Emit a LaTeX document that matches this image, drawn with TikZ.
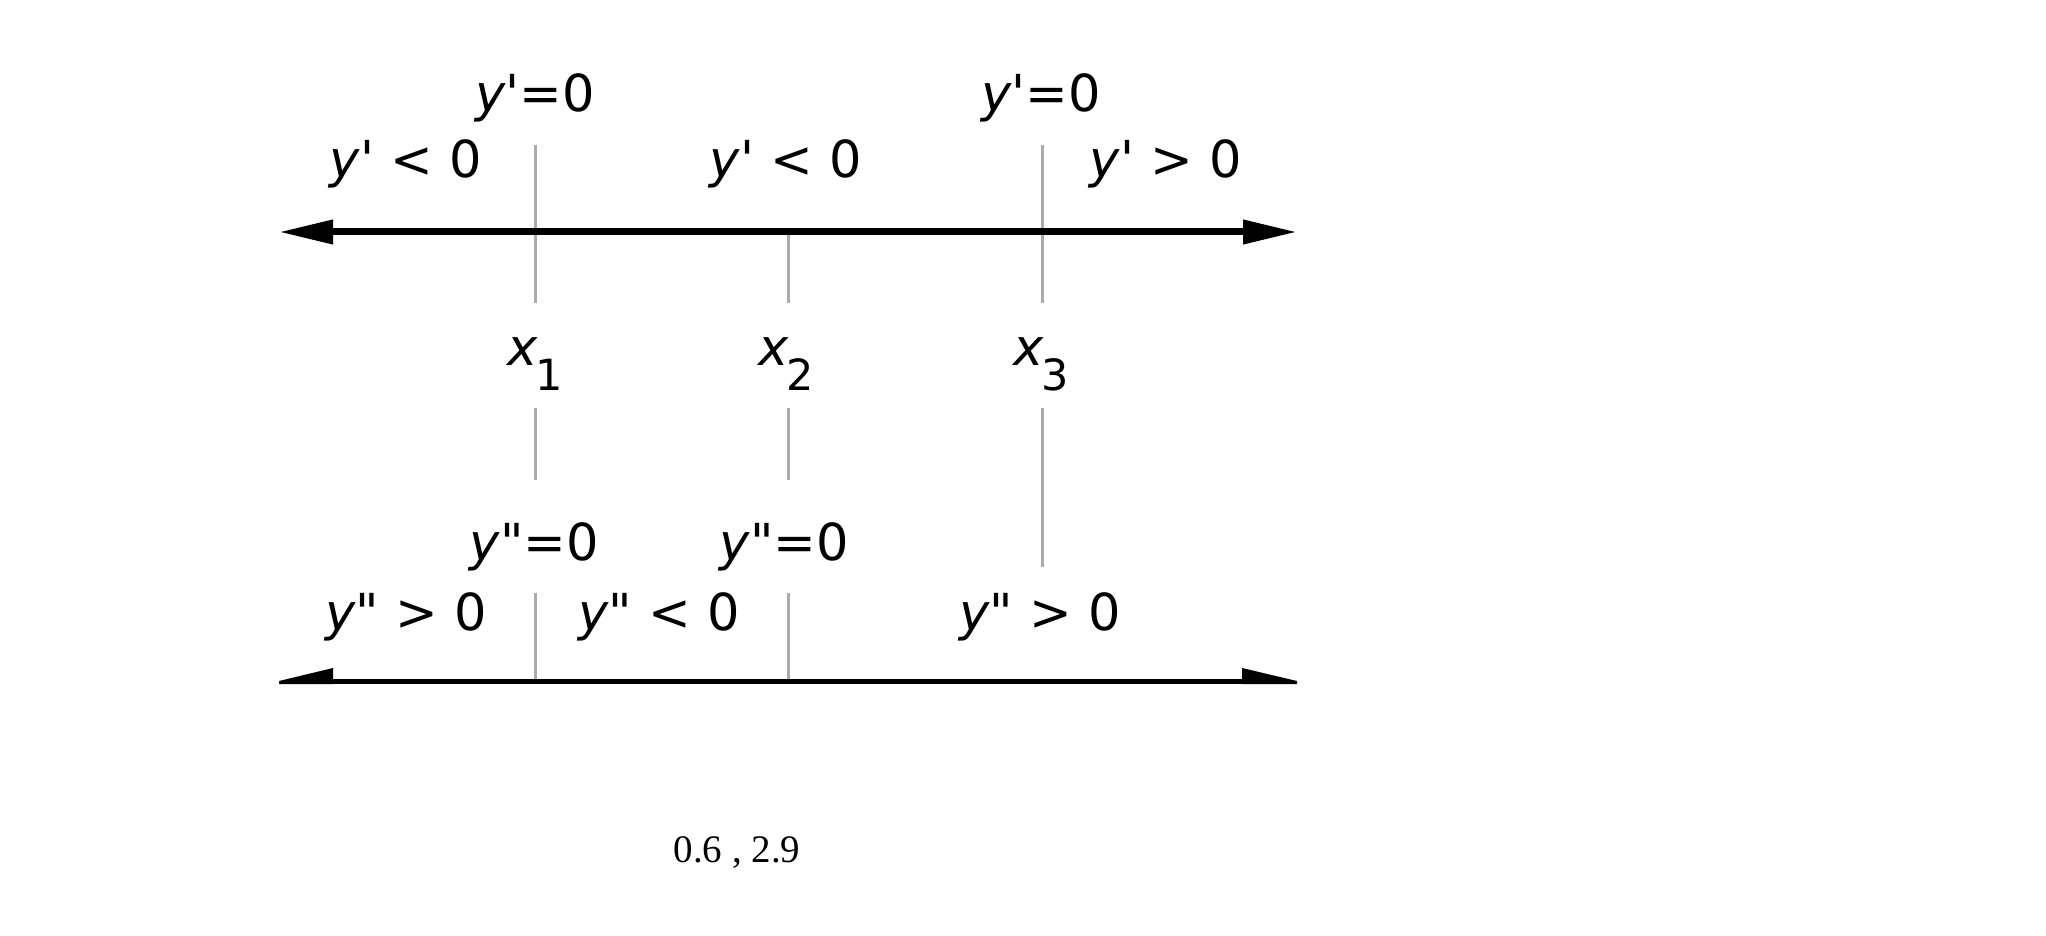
\documentclass[tikz,border=0pt]{standalone}
\usepackage{fontspec}
\setmainfont{Liberation Serif}
\newfontfamily\lab{DejaVu Sans}[Ligatures=ResetAll]
\usetikzlibrary{arrows.meta}
\newcommand{\lsub}[1]{\kern-2pt\raisebox{-25pt}{\fontsize{43}{43}\selectfont #1}}
\begin{document}
\begin{tikzpicture}[x=1pt,y=-1pt,
  lbl/.style={anchor=base,inner sep=0pt,font=\lab\fontsize{51}{60}\selectfont},
  captext/.style={anchor=base,inner sep=0pt,font=\fontsize{39}{46}\selectfont},
  tick/.style={draw=black!33,line width=3pt},
  axis/.style={draw=black,line width=7pt},
  axisb/.style={draw=black,line width=5pt},
  tipfill/.style={fill=black}]
\useasboundingbox[fill=white] (0,0) rectangle (2046,936);
% top axis
\coordinate (tL) at (279,232);
\coordinate (tR) at (1297,232);
% bottom axis
\coordinate (bL) at (330,681);
\coordinate (bR) at (1245,681);
\coordinate (bLh) at (279,681);
\coordinate (bLb) at (333,668);
\coordinate (bLc) at (333,684);
\coordinate (bLd) at (279,684);
\coordinate (bRh) at (1297,681);
\coordinate (bRb) at (1242,668);
\coordinate (bRc) at (1242,684);
\coordinate (bRd) at (1297,684);
% tick ends
\coordinate (a1) at (535,145); \coordinate (a2) at (535,303);
\coordinate (a3) at (535,408); \coordinate (a4) at (535,480);
\coordinate (a5) at (535,593); \coordinate (a6) at (535,681);
\coordinate (b1) at (788,232); \coordinate (b2) at (788,303);
\coordinate (b3) at (788,408); \coordinate (b4) at (788,480);
\coordinate (b5) at (788,593); \coordinate (b6) at (788,681);
\coordinate (c1) at (1042,145); \coordinate (c2) at (1042,303);
\coordinate (c3) at (1042,408); \coordinate (c4) at (1042,567);
\draw[tick] (a1) -- (a2); \draw[tick] (a3) -- (a4); \draw[tick] (a5) -- (a6);
\draw[tick] (b1) -- (b2); \draw[tick] (b3) -- (b4); \draw[tick] (b5) -- (b6);
\draw[tick] (c1) -- (c2); \draw[tick] (c3) -- (c4);
% axes over ticks
\draw[axis,{Triangle[length=54pt,width=23pt]}-{Triangle[length=54pt,width=23pt]}] (tL) -- (tR);
\draw[axisb] (bL) -- (bR);
\fill[tipfill] (bLh) -- (bLb) -- (bLc) -- (bLd) -- cycle;
\fill[tipfill] (bRh) -- (bRb) -- (bRc) -- (bRd) -- cycle;
% labels top
\node[lbl] (p1) at (535,112) {\textit{y}'=0};
\node[lbl] (p3) at (1041,112) {\textit{y}'=0};
\node[lbl] (n1) at (406,178) {\textit{y}' < 0};
\node[lbl] (n2) at (786,178) {\textit{y}' < 0};
\node[lbl] (n3) at (1166,178) {\textit{y}' > 0};
% x labels
\node[lbl] (x1) at (535,365) {\textit{x}\lsub{1}};
\node[lbl] (x2) at (786,365) {\textit{x}\lsub{2}};
\node[lbl] (x3) at (1041,365) {\textit{x}\lsub{3}};
% labels bottom
\node[lbl] (q1) at (534,560) {\textit{y}"=0};
\node[lbl] (q2) at (784,560) {\textit{y}"=0};
\node[lbl] (m1) at (406,630) {\textit{y}" > 0};
\node[lbl] (m2) at (659,630) {\textit{y}" < 0};
\node[lbl] (m3) at (1040,630) {\textit{y}" > 0};
% caption
\node[captext] (cp) at (737,862) {0.6 , 2.9};
\end{tikzpicture}
\end{document}
